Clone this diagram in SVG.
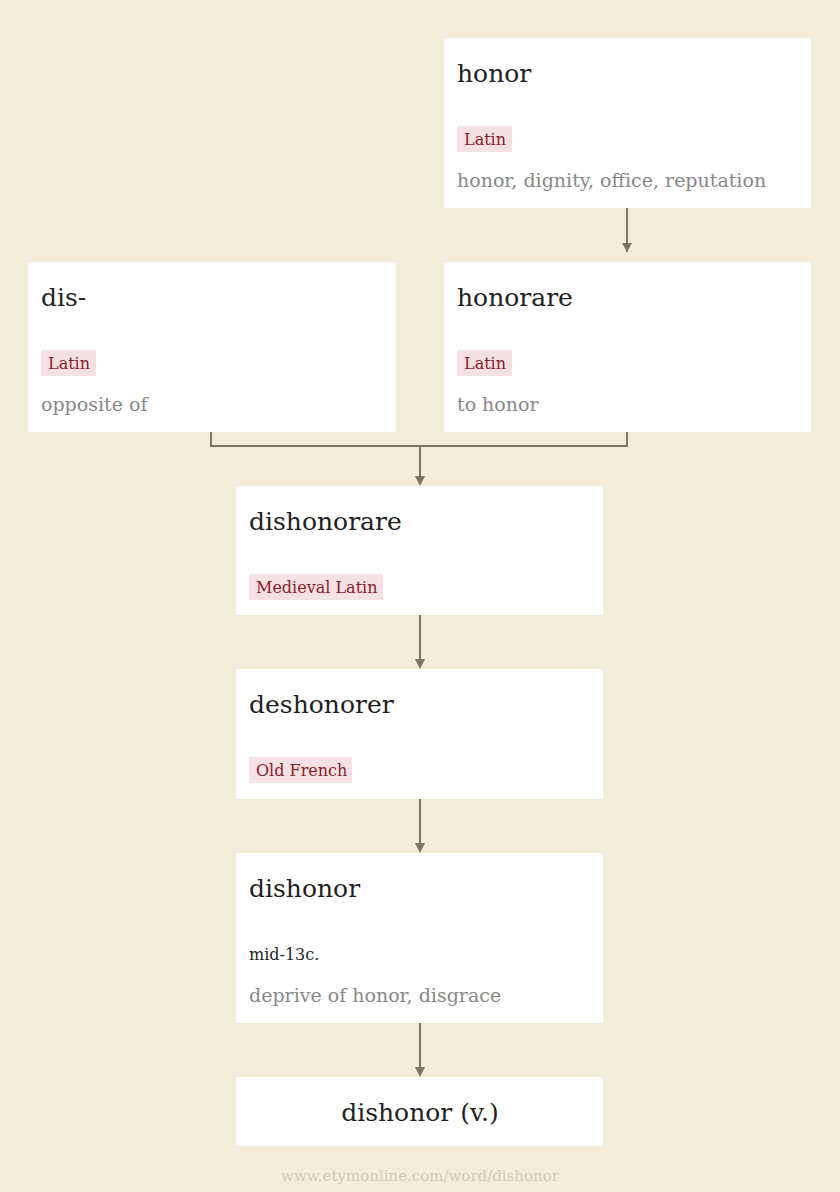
<svg xmlns="http://www.w3.org/2000/svg" width="840" height="1192" viewBox="0 0 840 1192">
<defs>
<marker id="arr" markerWidth="10" markerHeight="10" refX="5" refY="9" orient="auto" markerUnits="userSpaceOnUse" viewBox="0 0 10 10">
<path d="M0,0 L10,0 L5,10 Z" fill="#7d7463" transform="rotate(-90 5 5)"/>
</marker>
<style>
.box{fill:#ffffff}
.title{font-family:"DejaVu Serif","Liberation Serif",serif;font-size:25px;fill:#1f1f1f}
.tagbg{fill:#f3e1e4}
.tag{font-family:"DejaVu Serif","Liberation Serif",serif;font-size:16px;fill:#8a1c2c}
.gloss{font-family:"DejaVu Serif","Liberation Serif",serif;font-size:19px;fill:#888888}
.date{font-family:"DejaVu Serif","Liberation Serif",serif;font-size:16px;fill:#1f1f1f}
.conn{fill:none;stroke:#7d7463;stroke-width:2}
.foot{font-family:"DejaVu Serif","Liberation Serif",serif;font-size:15px;fill:#d3cbbb}
</style>
</defs>
<rect width="840" height="1192" fill="#f2ecdb"/>
<g id="connectors">
<line class="conn" x1="627" y1="208" x2="627" y2="252"/>
<path d="M627,252 l-5,-9 h10 z" fill="#7d7463"/>
<polyline class="conn" points="211,432 211,446 627,446 627,432"/>
<line class="conn" x1="420" y1="446" x2="420" y2="476"/>
<path d="M420,486 l-5,-10 h10 z" fill="#7d7463"/>
<line class="conn" x1="420" y1="615" x2="420" y2="659"/>
<path d="M420,669 l-5,-10 h10 z" fill="#7d7463"/>
<line class="conn" x1="420" y1="799" x2="420" y2="843"/>
<path d="M420,853 l-5,-10 h10 z" fill="#7d7463"/>
<line class="conn" x1="420" y1="1023" x2="420" y2="1067"/>
<path d="M420,1077 l-5,-10 h10 z" fill="#7d7463"/>
</g>
<g id="node-honor">
<rect class="box" x="444" y="38" width="367" height="170"/>
<text class="title" x="457" y="82">honor</text>
<rect class="tagbg" x="457" y="126" width="55" height="26"/>
<text class="tag" x="464" y="145">Latin</text>
<text class="gloss" x="457" y="187">honor, dignity, office, reputation</text>
</g>
<g id="node-dis">
<rect class="box" x="28" y="262" width="368" height="170"/>
<text class="title" x="41" y="306">dis-</text>
<rect class="tagbg" x="41" y="350" width="55" height="26"/>
<text class="tag" x="48" y="369">Latin</text>
<text class="gloss" x="41" y="411">opposite of</text>
</g>
<g id="node-honorare">
<rect class="box" x="444" y="262" width="367" height="170"/>
<text class="title" x="457" y="306">honorare</text>
<rect class="tagbg" x="457" y="350" width="55" height="26"/>
<text class="tag" x="464" y="369">Latin</text>
<text class="gloss" x="457" y="411">to honor</text>
</g>
<g id="node-dishonorare">
<rect class="box" x="236" y="486" width="367" height="129"/>
<text class="title" x="249" y="530">dishonorare</text>
<rect class="tagbg" x="249" y="574" width="134" height="26"/>
<text class="tag" x="256" y="593">Medieval Latin</text>
</g>
<g id="node-deshonorer">
<rect class="box" x="236" y="669" width="367" height="130"/>
<text class="title" x="249" y="713">deshonorer</text>
<rect class="tagbg" x="249" y="757" width="103" height="26"/>
<text class="tag" x="256" y="776">Old French</text>
</g>
<g id="node-dishonor">
<rect class="box" x="236" y="853" width="367" height="170"/>
<text class="title" x="249" y="897">dishonor</text>
<text class="date" x="249" y="960">mid-13c.</text>
<text class="gloss" x="249" y="1002">deprive of honor, disgrace</text>
</g>
<g id="node-dishonor-v">
<rect class="box" x="236" y="1077" width="367" height="69"/>
<text class="title" x="420" y="1121" text-anchor="middle">dishonor (v.)</text>
</g>
<text class="foot" x="420" y="1181" text-anchor="middle">www.etymonline.com/word/dishonor</text>
</svg>
